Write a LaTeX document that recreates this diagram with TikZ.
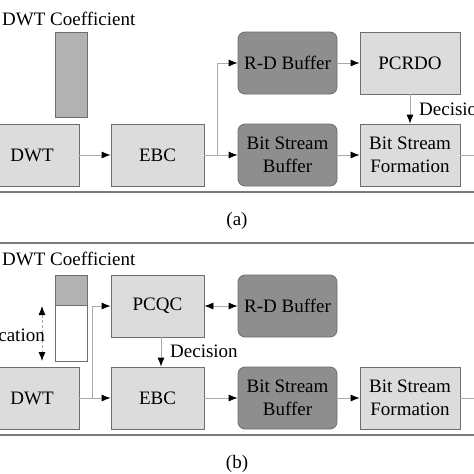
\documentclass[tikz,border=0pt]{standalone}
\usepackage{fontspec}
\setmainfont{Liberation Serif}
\usetikzlibrary{arrows.meta}
\definecolor{boxfill}{HTML}{DCDCDC}
\definecolor{boxdraw}{HTML}{6E6E6E}
\definecolor{darkfill}{HTML}{8E8E8E}
\definecolor{barfill}{HTML}{B2B2B2}
\definecolor{connc}{HTML}{ABABAB}
\definecolor{framec}{HTML}{7A7A7A}
\begin{document}
\begin{tikzpicture}[x=1pt,y=-1pt,
  lbox/.style={draw=boxdraw,fill=boxfill,line width=0.8pt,minimum height=62pt,align=center,inner sep=0pt,font=\fontsize{19}{23}\selectfont},
  dbox/.style={lbox,fill=darkfill,rounded corners=7pt},
  conn/.style={draw=connc,line width=0.8pt,-{Latex[black,length=9pt,width=7pt]}},
  dconn/.style={draw=connc,line width=0.8pt,{Latex[black,length=9pt,width=7pt]}-{Latex[black,length=9pt,width=7pt]}},
  plain/.style={draw=connc,line width=0.8pt},
  frameline/.style={draw=framec,line width=1.3pt},
  lbl/.style={font=\fontsize{19}{23}\selectfont,inner sep=0pt},
  barbox/.style={draw=boxdraw,line width=0.8pt,inner sep=0pt,minimum width=32pt}]
\useasboundingbox (0,0) rectangle (474,474);
% ---------- (a) ----------
\node[lbl,anchor=base west] (coefa) at (2,25) {DWT Coefficient};
\node[barbox,fill=barfill,minimum height=85pt] (bara) at (71,74.5) {};
\node[lbox,minimum width=94pt] (dwta) at (32,155) {DWT};
\node[lbox,minimum width=93pt] (ebca) at (157.5,155) {EBC};
\node[dbox,minimum width=99pt] (rdba) at (287.5,63) {R-D Buffer};
\node[dbox,minimum width=99pt] (bsba) at (287.5,155) {Bit Stream\\Buffer};
\node[lbox,minimum width=100pt] (pcrdo) at (410,63) {PCRDO};
\node[lbox,minimum width=100pt] (bsfa) at (410,155) {Bit Stream\\Formation};
\coordinate (ja) at (217,155);
\coordinate (outa) at (476,155);
\draw[conn] (dwta) -- (ebca);
\draw[conn] (ebca) -- (bsba);
\draw[conn] (ja) |- (rdba.west);
\draw[conn] (rdba) -- (pcrdo);
\draw[conn] (bsba) -- (bsfa);
\draw[conn] (pcrdo) -- (bsfa);
\draw[plain] (bsfa) -- (outa);
\node[lbl,anchor=base west] (deca) at (419,115) {Decision};
\draw[frameline] (-2,192) -- (476,192);
\node[lbl,anchor=base] (capa) at (237,225) {(a)};
% ---------- (b) ----------
\draw[frameline] (-2,243) -- (476,243);
\draw[frameline] (-2,435) -- (476,435);
\node[lbl,anchor=base west] (coefb) at (2,265) {DWT Coefficient};
\node[barbox,fill=white,minimum height=86pt] (barb) at (71,318) {};
\node[barbox,fill=barfill,minimum height=30pt] (barbtop) at (71,290) {};
\node[lbox,minimum width=94pt] (dwtb) at (32,398) {DWT};
\node[lbox,minimum width=93pt] (ebcb) at (157.5,398) {EBC};
\node[lbox,minimum width=93pt] (pcqc) at (157.5,306) {PCQC};
\node[dbox,minimum width=99pt] (rdbb) at (287.5,306) {R-D Buffer};
\node[dbox,minimum width=99pt] (bsbb) at (287.5,398) {Bit Stream\\Buffer};
\node[lbox,minimum width=100pt] (bsfb) at (410,398) {Bit Stream\\Formation};
\coordinate (jb) at (92,398);
\coordinate (outb) at (476,398);
\draw[conn] (dwtb) -- (ebcb);
\draw[conn] (jb) |- (pcqc.west);
\draw[dconn] (pcqc) -- (rdbb);
\draw[conn] ([xshift=3.5pt]pcqc.south) -- ([xshift=3.5pt]ebcb.north);
\draw[conn] (ebcb) -- (bsbb);
\draw[conn] (bsbb) -- (bsfb);
\draw[plain] (bsfb) -- (outb);
\node[lbl,anchor=base west] (decb) at (170,357) {Decision};
\coordinate (vt) at (42,306);
\coordinate (vb) at (42,361);
\draw[dconn,dashed,dash pattern=on 3pt off 2pt] (vt) -- (vb);
\node[lbl,anchor=base east] (alloc) at (45,341) {cation};
\node[lbl,anchor=base] (capb) at (237,468) {(b)};
\end{tikzpicture}
\end{document}
